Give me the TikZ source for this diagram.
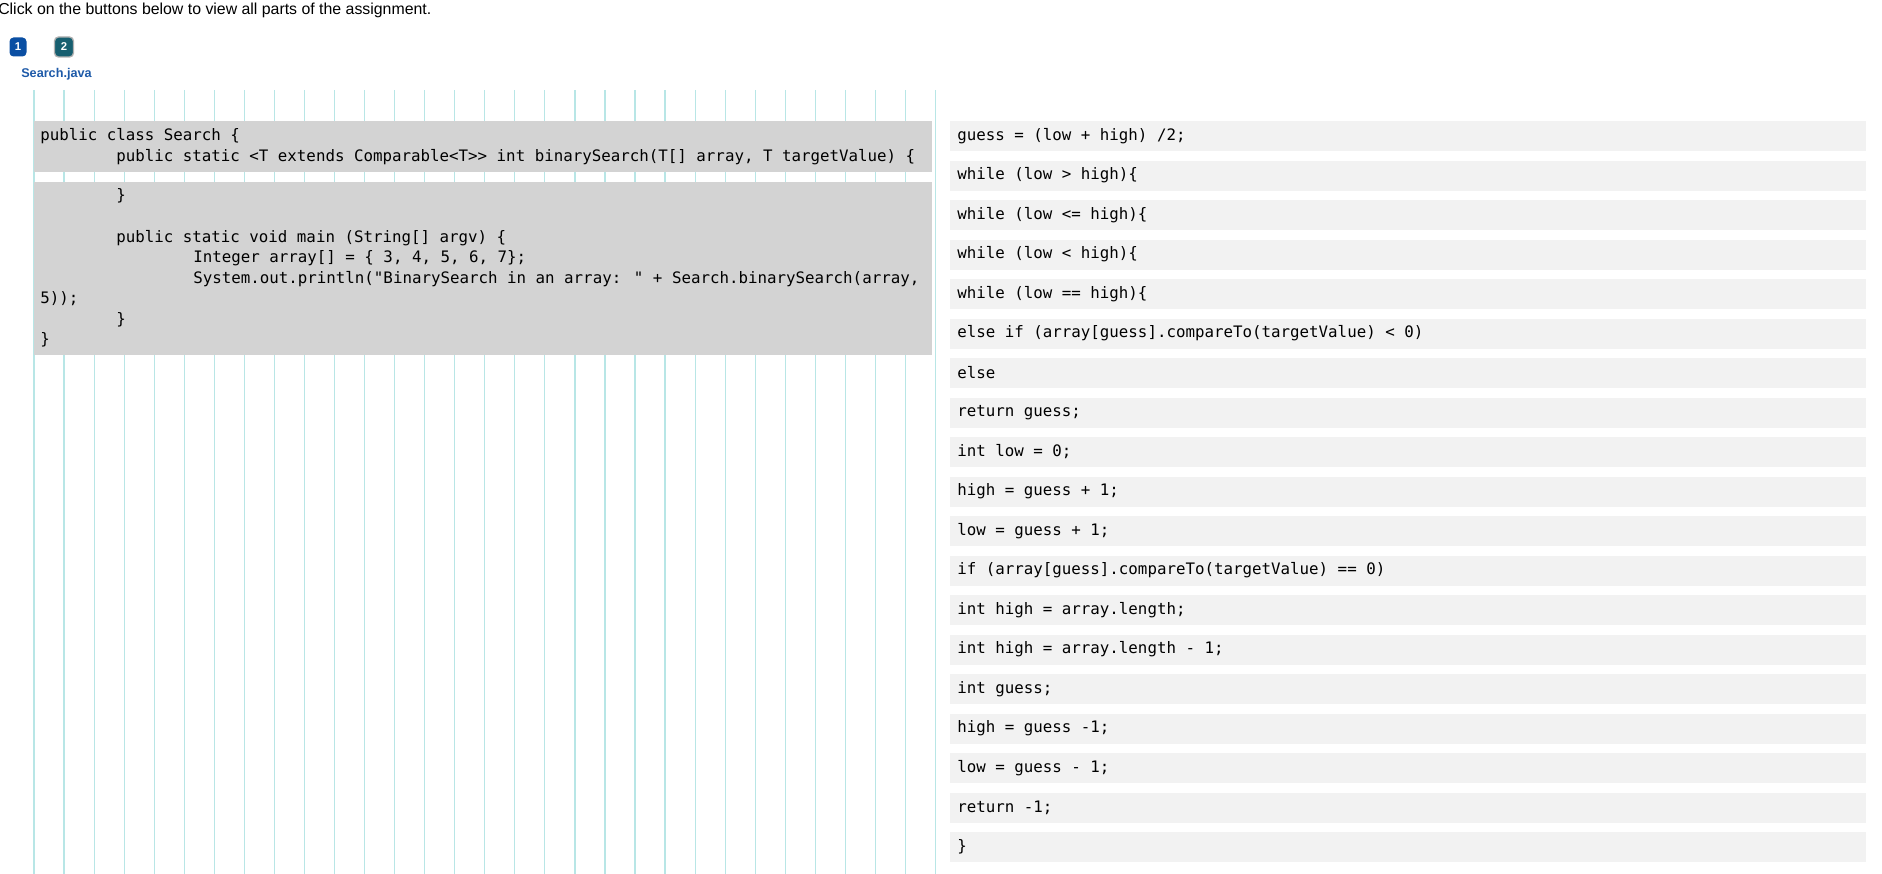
\documentclass[tikz,border=0pt]{standalone}
\usepackage{fontspec}
\setmainfont{Liberation Sans}
\newfontfamily\codefont{DejaVu Sans Mono}
\begin{document}
\begin{tikzpicture}[x=0.75pt,y=-0.75pt,
  code/.style={anchor=west,inner sep=0pt,font=\codefont\fontsize{11.85}{14}\selectfont},
  grid/.style={draw=gridc,line width=0.9pt}]
\definecolor{gridc}{HTML}{B8E6E6}
\definecolor{leftbg}{HTML}{D3D3D3}
\definecolor{itembg}{HTML}{F2F2F2}
\definecolor{btnA}{HTML}{0A4FA3}
\definecolor{btnB}{HTML}{175F70}
\definecolor{linkc}{HTML}{1E5AA8}
\useasboundingbox (0,0) rectangle (1882,874);
\node[anchor=west,inner sep=0pt,font=\fontsize{11.9}{13}\selectfont] (title) at (-2,10) {Click on the buttons below to view all parts of the assignment.};
\node[fill=btnA,rounded corners=3pt,text=white,font=\bfseries\fontsize{8.5}{10}\selectfont,minimum width=17*0.75pt,minimum height=19*0.75pt,inner sep=0pt] (b1) at (18,47) {1};
\node[fill=btnB,draw=gray!60,line width=1pt,rounded corners=3pt,text=white,font=\bfseries\fontsize{8.5}{10}\selectfont,minimum width=19*0.75pt,minimum height=20*0.75pt,inner sep=0pt] (b2) at (64,47) {2};
\node[anchor=west,inner sep=0pt,text=linkc,font=\bfseries\fontsize{9.5}{11}\selectfont] (link) at (21,74) {Search.java};
\foreach \i in {0,...,30} {\draw[grid] (34+\i*30.05,90) -- (34+\i*30.05,874);}
\fill[leftbg] (34,121) rectangle (932,172);
\fill[leftbg] (34,182) rectangle (932,355);
\node[code] (l1) at (40,136) {public class Search \{};
\node[code] (l2) at (116,157) {public static <T extends Comparable<T>{}> int binarySearch(T[] array, T targetValue) \{};
\node[code] (l3) at (116,196) {\}};
\node[code] (l4) at (116,238) {public static void main (String[] argv) \{};
\node[code] (l5) at (193,258) {Integer array[] = \{ 3, 4, 5, 6, 7\};};
\node[code] (l6) at (193,279) {System.out.println("BinarySearch in an array: " + Search.binarySearch(array,};
\node[code] (l7) at (40,299) {5));};
\node[code] (l8) at (116,320) {\}};
\node[code] (l9) at (40,340) {\}};
\foreach \t [count=\k from 0] in {
 {guess = (low + high) /2;},
 {while (low > high)\{},
 {while (low <= high)\{},
 {while (low < high)\{},
 {while (low == high)\{},
 {else if (array[guess].compareTo(targetValue) < 0)},
 {else},
 {return guess;},
 {int low = 0;},
 {high = guess + 1;},
 {low = guess + 1;},
 {if (array[guess].compareTo(targetValue) == 0)},
 {int high = array.length;},
 {int high = array.length - 1;},
 {int guess;},
 {high = guess -1;},
 {low = guess - 1;},
 {return -1;},
 {\}}} {
  \fill[itembg] (950,121+\k*39.5) rectangle (1866,151+\k*39.5);
  \node[code] (r\k) at (957,136+\k*39.5) {\t};
}
\end{tikzpicture}
\end{document}
